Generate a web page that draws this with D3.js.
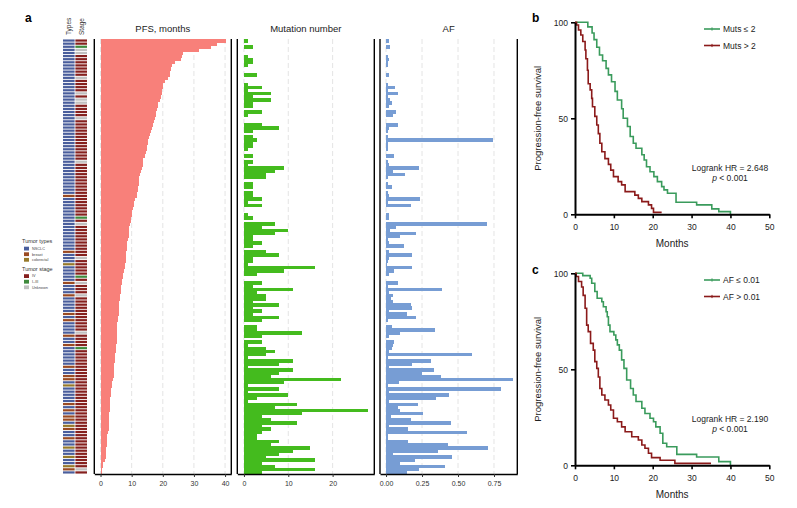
<!DOCTYPE html>
<html>
<head>
<meta charset="utf-8">
<script src="https://cdn.jsdelivr.net/npm/d3@7"></script>
<style>
  body { margin: 0; background: #fff; }
  text { font-family: "Liberation Sans", Arial, sans-serif; }
</style>
</head>
<body>
<script>

// ---- panel a data (one entry per patient, sorted by PFS) ----
const pfs = [
  40.3, 37.4, 35.4, 31.6, 26.5, 26.1, 25.8, 23.9, 23.0, 22.7, 22.4, 22.3, 21.8, 20.7, 20.0, 20.0, 19.8, 19.8, 19.4, 19.0,
  18.6, 18.4, 18.2, 17.9, 17.7, 17.5, 17.3, 16.9, 16.6, 16.2, 15.9, 15.5, 15.3, 15.2, 14.9, 14.8, 14.5, 14.3, 13.7, 13.6,
  13.5, 13.3, 13.0, 12.6, 12.4, 12.3, 12.2, 12.0, 11.9, 11.7, 11.6, 11.0, 10.9, 10.7, 10.4, 10.2, 10.1, 9.9, 9.8, 9.6,
  9.3, 9.1, 9.1, 9.0, 8.8, 8.5, 8.5, 8.4, 8.3, 8.1, 8.1, 8.1, 8.0, 7.9, 7.6, 7.3, 7.1, 6.9, 6.8, 6.7,
  6.7, 6.5, 6.3, 6.2, 6.0, 6.0, 6.0, 5.9, 5.9, 5.7, 5.5, 5.3, 5.3, 5.3, 5.3, 5.3, 5.2, 5.2, 5.1, 5.0,
  5.0, 4.8, 4.6, 4.6, 4.4, 4.3, 4.3, 4.3, 4.2, 3.9, 3.7, 3.6, 3.4, 3.4, 3.3, 3.2, 3.1, 3.1, 3.1, 2.9,
  2.8, 2.8, 2.6, 2.6, 2.6, 2.6, 2.3, 2.2, 2.1, 2.0, 2.0, 1.9, 1.9, 1.8, 1.6, 1.4, 0.9, 0.7, 0.5, 0.5
];
const mutations = [
  1, 0, 2, 0, 0, 1, 2, 2, 1, 0, 0, 3, 0, 0, 1, 4, 1, 6, 2, 6,
  2, 2, 0, 4, 1, 0, 0, 4, 8, 2, 0, 2, 3, 2, 2, 1, 0, 2, 0, 2,
  1, 9, 7, 5, 5, 0, 2, 2, 0, 2, 2, 4, 1, 4, 0, 0, 1, 2, 0, 7,
  4, 10, 7, 2, 2, 4, 2, 0, 5, 8, 2, 2, 1, 16, 9, 3, 0, 0, 4, 2,
  11, 3, 5, 5, 2, 8, 2, 4, 2, 8, 4, 0, 3, 3, 13, 4, 0, 4, 1, 5,
  7, 5, 1, 11, 8, 1, 11, 8, 6, 22, 9, 1, 8, 1, 10, 3, 1, 12, 7, 28,
  13, 4, 6, 12, 4, 6, 4, 3, 3, 8, 6, 15, 11, 8, 5, 16, 4, 7, 16, 4
];
const af = [
  0.019, 0, 0.028, 0, 0, 0.012, 0.019, 0.012, 0.012, 0, 0, 0.019, 0, 0, 0.012, 0.063, 0.012, 0.084, 0.012, 0.028,
  0.042, 0.019, 0, 0.07, 0.049, 0, 0, 0.084, 0.019, 0.012, 0, 0.012, 0.74, 0.012, 0.012, 0.012, 0, 0.056, 0, 0.012,
  0.019, 0.23, 0.049, 0.133, 0.012, 0, 0.012, 0.042, 0, 0.012, 0.019, 0.238, 0.012, 0.175, 0, 0, 0.019, 0.019, 0, 0.70,
  0.07, 0.028, 0.21, 0.098, 0.012, 0.019, 0.126, 0, 0.019, 0.18, 0.019, 0.012, 0.005, 0.18, 0.056, 0.019, 0, 0, 0.084, 0.012,
  0.39, 0.019, 0.049, 0.035, 0.049, 0.175, 0.18, 0.019, 0.147, 0.21, 0.012, 0, 0.042, 0.34, 0.098, 0.019, 0, 0.056, 0.049, 0.042,
  0.019, 0.60, 0.012, 0.315, 0.18, 0.019, 0.33, 0.25, 0.385, 0.88, 0.09, 0.012, 0.80, 0.019, 0.44, 0.35, 0.019, 0.22, 0.084, 0.098,
  0.26, 0.035, 0.175, 0.45, 0.019, 0.154, 0.56, 0.012, 0.012, 0.154, 0.43, 0.71, 0.36, 0.049, 0.46, 0.2, 0.098, 0.41, 0.23, 0.147
];
// N = NSCLC, B = breast, C = colorectal
const types = [
  'N','N','N','N','N','N','N','N','N','N','N','N','N','N','N','N','N','N','N','N',
  'N','N','N','N','N','N','N','N','N','N','N','N','N','N','N','N','N','N','N','N',
  'N','N','N','N','N','N','N','N','N','N','B','N','N','N','N','N','N','N','N','N',
  'N','N','N','N','N','N','N','N','B','N','N','N','C','N','N','N','N','N','B','N',
  'N','N','B','N','N','N','N','N','B','N','B','N','N','N','N','B','N','N','B','N',
  'N','N','N','N','N','B','N','N','B','B','N','C','N','N','N','N','N','B','N','B',
  'N','B','B','N','C','B','N','N','B','N','N','C','N','N','C','N','N','C','B','N'
];
// 4 = stage IV, E = stage I-III, U = unknown
const stages = [
  '4','4','E','U','U','4','4','4','4','4','4','4','U','4','4','4','4','U','4','U',
  'U','4','4','4','4','U','4','4','4','4','4','4','4','4','4','4','4','4','4','U',
  '4','4','4','4','4','4','4','4','4','4','4','4','4','4','4','4','4','E','4','U',
  '4','4','4','4','4','4','4','4','4','4','U','4','4','4','4','4','E','4','U','4',
  '4','4','U','4','4','4','4','4','4','4','4','4','4','4','U','4','4','4','4','E',
  '4','4','4','4','4','4','4','4','4','4','4','4','4','4','4','4','4','4','4','4',
  '4','4','4','4','4','4','4','4','4','4','4','4','4','4','4','4','4','4','U','4'
];

const typeKeys = ['N', 'B', 'C'];
const typeNames = ['NSCLC', 'breast', 'colorectal'];
const stageKeys = ['4', 'E', 'U'];
const stageNames = ['IV', 'I\u2013III', 'Unknown'];

const pfsTicks = [0, 10, 20, 30, 40];
const mutTicks = [0, 10, 20];
const afTicks = [0, 0.25, 0.5, 0.75];

// ---- panels b and c: Kaplan-Meier steps (months, % progression-free) ----
const bLowT = [0, 3.3, 4.4, 4.9, 5.6, 6.3, 7.1, 8.0, 8.6, 9.4, 10.3, 10.9, 12.0, 12.4, 13.5, 14.2, 15.0, 15.7, 17.2, 17.8, 18.4, 19.3, 20.3, 21.2, 22.3, 22.9, 23.8, 26.0, 31.3, 35.2, 37.0, 40.0];
const bLowS = [100, 97.6, 94.4, 91, 87, 83, 80, 76, 72.6, 69, 64, 59.5, 55, 50, 45.7, 40.5, 37, 34.4, 31, 28.3, 24.8, 22.2, 19.6, 17, 14.4, 12.7, 11, 6.3, 4.9, 2.8, 1.4, 0];
const bHighT = [0, 0.4, 0.9, 1.5, 2.0, 2.6, 2.8, 3.2, 3.4, 3.9, 4.3, 4.5, 5.1, 5.6, 6.0, 6.4, 6.9, 7.7, 8.6, 9.2, 9.9, 11.1, 12.0, 12.9, 15.4, 16.3, 17.2, 18.9, 19.7, 20.2, 22.3];
const bHighS = [100, 98.6, 96, 93.4, 90, 85.6, 81, 75, 68, 64.8, 60.4, 56, 51, 46.5, 42, 37, 32.6, 29, 26, 23, 19.6, 17, 15.3, 11.8, 10, 8.3, 6.6, 4.9, 3.1, 1, 1];
const cLowT = [0, 2.0, 3.9, 4.3, 5.1, 5.7, 6.9, 7.3, 8.0, 8.3, 8.6, 9.0, 10.0, 10.5, 10.9, 11.4, 12.0, 12.6, 13.3, 14.3, 15.0, 15.7, 17.2, 18.0, 19.3, 20.2, 20.8, 21.9, 22.6, 23.6, 26.2, 31.3, 37.0, 40.0];
const cLowS = [100, 98.8, 97.4, 94.8, 90.5, 87, 85.2, 82.6, 80, 77.4, 73, 69.6, 67.9, 65.3, 62.7, 60, 54.9, 50.5, 44.4, 40, 36.6, 33.2, 29.7, 27, 24.5, 22.7, 20, 16.7, 11.5, 9.7, 5.7, 4.3, 1.9, 0];
const cHighT = [0, 0.3, 0.9, 1.7, 2.1, 2.6, 3.0, 3.4, 4.0, 4.7, 5.1, 5.6, 6.0, 6.4, 6.9, 7.7, 8.6, 9.2, 9.9, 10.9, 12.0, 12.9, 14.6, 16.3, 17.2, 18.0, 18.9, 19.7, 21.9, 25.7, 35.0];
const cHighS = [100, 98.3, 95.7, 92.9, 88.5, 81.8, 73, 69.6, 63.5, 60, 54, 50.5, 46, 40, 36.6, 34, 31.4, 28.8, 24.5, 22.7, 20, 17.5, 14.9, 13.2, 10.6, 8.9, 6.3, 4, 2.6, 1, 1];

const survTicksX = [0, 10, 20, 30, 40, 50];
const survTicksY = [0, 50, 100];

const colors = {
  N: '#4a5e9c', B: '#9a4a22', C: '#96792a',
  '4': '#85201e', E: '#3f8a3d', U: '#c0c0c0',
  pfs: '#f8807a', mut: '#44bb1e', af: '#779dd4',
  low: '#3a9b5c', high: '#8b1a1a'
}

const svg = d3.select('body').append('svg')
    .attr('width', 797)
    .attr('height', 508)

const rows = d3.range(pfs.length)
const yRow = d3.scaleBand().domain(rows).range([39, 474]).padding(0)

// panel letters
svg.append('text').attr('x', 25).attr('y', 22).attr('font-size', 12).attr('font-weight', 'bold').text('a')
svg.append('text').attr('x', 532).attr('y', 22).attr('font-size', 12).attr('font-weight', 'bold').text('b')
svg.append('text').attr('x', 532).attr('y', 274).attr('font-size', 12).attr('font-weight', 'bold').text('c')

// ---- heatmap columns ----
const xCol = d3.scaleBand().domain(['Types', 'Stage']).range([63, 87]).paddingInner(0.06)

svg.append('g').selectAll('rect')
    .data(rows)
    .enter()
    .append('rect')
        .attr('x', xCol('Types'))
        .attr('width', xCol.bandwidth())
        .attr('y', d => yRow(d) + 0.45)
        .attr('height', yRow.bandwidth() - 0.9)
        .attr('fill', d => colors[types[d]])

svg.append('g').selectAll('rect')
    .data(rows)
    .enter()
    .append('rect')
        .attr('x', xCol('Stage'))
        .attr('width', xCol.bandwidth())
        .attr('y', d => yRow(d) + 0.45)
        .attr('height', yRow.bandwidth() - 0.9)
        .attr('fill', d => colors[stages[d]])

xCol.domain().forEach(function(name) {
    const cx = xCol(name) + xCol.bandwidth() / 2 + 2.5
    svg.append('text')
        .attr('transform', `translate(${cx},35) rotate(-90)`)
        .attr('font-size', 6.5)
        .attr('fill', '#333')
        .text(name)
})

// ---- side legend ----
function sideLegend(title, names, keys, top) {
    const g = svg.append('g')
    g.append('text').attr('x', 22).attr('y', top).attr('font-size', 5.5).attr('fill', '#333').text(title)
    names.forEach(function(n, i) {
        const yy = top + 5.5 + i * 5.6
        g.append('rect').attr('x', 24).attr('y', yy - 1.8).attr('width', 5).attr('height', 3.8).attr('fill', colors[keys[i]])
        g.append('text').attr('x', 32).attr('y', yy + 1.4).attr('font-size', 3.8).attr('fill', '#444').text(n)
    })
}
sideLegend('Tumor types', typeNames, typeKeys, 243)
sideLegend('Tumor stage', stageNames, stageKeys, 270.5)

// ---- bar panels ----
const panels = [
    { title: 'PFS, months', values: pfs, domain: [-2, 42], range: [94.3, 231.3], ticks: pfsTicks, color: colors.pfs, fmt: d3.format('d') },
    { title: 'Mutation number', values: mutations, domain: [-1.5, 29.4], range: [237.3, 374.3], ticks: mutTicks, color: colors.mut, fmt: d3.format('d') },
    { title: 'AF', values: af, domain: [-0.042, 0.912], range: [380, 517.3], ticks: afTicks, color: colors.af, fmt: d3.format('.2f') }
]

panels.forEach(function(p) {
    const x = d3.scaleLinear().domain(p.domain).range(p.range)
    const g = svg.append('g')
    const top = yRow.range()[0], bottom = yRow.range()[1]

    // dashed grid
    g.selectAll('.grid')
        .data(p.ticks)
        .enter()
        .append('line')
            .attr('x1', d => x(d)).attr('x2', d => x(d))
            .attr('y1', top).attr('y2', bottom)
            .attr('stroke', '#e4e4e4')
            .attr('stroke-width', 1)
            .attr('stroke-dasharray', '5,3')

    g.selectAll('.bar')
        .data(rows)
        .enter()
        .append('rect')
            .attr('x', x(0))
            .attr('width', d => Math.max(0, x(p.values[d]) - x(0)))
            .attr('y', d => yRow(d))
            .attr('height', yRow.bandwidth() + 0.5)
            .attr('fill', p.color)
            .attr('shape-rendering', 'crispEdges')

    // frame sides
    p.range.forEach(function(xx) {
        g.append('line')
            .attr('x1', xx).attr('x2', xx)
            .attr('y1', top).attr('y2', bottom)
            .attr('stroke', '#000')
            .attr('stroke-width', 1.4)
    })

    const axis = g.append('g')
        .attr('transform', `translate(0,${bottom})`)
        .call(d3.axisBottom(x).tickValues(p.ticks).tickFormat(p.fmt).tickSize(3).tickSizeOuter(0))
    axis.select('.domain').attr('stroke', '#000').attr('stroke-width', 1.4)
    axis.selectAll('.tick line').attr('stroke', '#333')
    axis.selectAll('.tick text')
        .attr('font-size', 7)
        .attr('fill', '#333')
        .attr('font-family', '"Liberation Sans", Arial, sans-serif')
        .attr('dy', '0.9em')

    g.append('text')
        .attr('x', (p.range[0] + p.range[1]) / 2)
        .attr('y', 31.5)
        .attr('text-anchor', 'middle')
        .attr('font-size', 9.5)
        .attr('fill', '#222')
        .text(p.title)
})

// ---- survival panels ----
function survPanel(y0, y100, curves, hr) {
    const x = d3.scaleLinear().domain([0, 50]).range([575, 769.3])
    const y = d3.scaleLinear().domain([0, 100]).range([y0, y100])
    const g = svg.append('g')

    const line = d3.line()
        .x(d => x(d[0]))
        .y(d => y(d[1]))
        .curve(d3.curveStepAfter)

    curves.forEach(function(c) {
        g.append('path')
            .datum(d3.zip(c.t, c.s))
            .attr('d', line)
            .attr('fill', 'none')
            .attr('stroke', c.color)
            .attr('stroke-width', 1.6)
    })

    const ax = g.append('g')
        .attr('transform', `translate(0,${y0})`)
        .call(d3.axisBottom(x).tickValues(survTicksX).tickSize(4).tickSizeOuter(0))
    const ay = g.append('g')
        .attr('transform', `translate(${x(0)},0)`)
        .call(d3.axisLeft(y).tickValues(survTicksY).tickSize(4).tickSizeOuter(0))
    ;[ax, ay].forEach(function(a) {
        a.select('.domain').attr('stroke', '#000').attr('stroke-width', 2)
        a.selectAll('.tick line').attr('stroke', '#000').attr('stroke-width', 1.6)
        a.selectAll('.tick text')
            .attr('font-size', 8.5)
            .attr('fill', '#222')
            .attr('font-family', '"Liberation Sans", Arial, sans-serif')
    })
    ax.selectAll('.tick text').attr('dy', '1.05em')

    g.append('text')
        .attr('x', x(25)).attr('y', y0 + 33)
        .attr('text-anchor', 'middle')
        .attr('font-size', 10)
        .attr('fill', '#222')
        .text('Months')
    g.append('text')
        .attr('transform', `translate(540.5,${(y0 + y100) / 2}) rotate(-90)`)
        .attr('text-anchor', 'middle')
        .attr('font-size', 9.5)
        .attr('fill', '#222')
        .text('Progression-free survival')

    // legend
    curves.forEach(function(c, i) {
        const ly = y100 + 6.7 + i * 16.5
        g.append('line').attr('x1', 704).attr('x2', 720).attr('y1', ly).attr('y2', ly)
            .attr('stroke', c.color).attr('stroke-width', 1.6)
        g.append('line').attr('x1', 712).attr('x2', 712).attr('y1', ly - 1.6).attr('y2', ly + 1.6)
            .attr('stroke', c.color).attr('stroke-width', 1)
        g.append('text').attr('x', 723).attr('y', ly + 3)
            .attr('font-size', 8.5).attr('fill', '#222').text(c.label)
    })

    g.append('text')
        .attr('x', 730).attr('y', y0 - 43)
        .attr('text-anchor', 'middle')
        .attr('font-size', 8.5)
        .attr('fill', '#222')
        .text('Logrank HR = ' + hr)
    const pt = g.append('text')
        .attr('x', 730).attr('y', y0 - 33)
        .attr('text-anchor', 'middle')
        .attr('font-size', 8.5)
        .attr('fill', '#222')
    pt.append('tspan').attr('font-style', 'italic').text('p')
    pt.append('tspan').text(' < 0.001')
}

survPanel(214.3, 22.3, [
    { t: bLowT, s: bLowS, color: colors.low, label: 'Muts \u2264 2' },
    { t: bHighT, s: bHighS, color: colors.high, label: 'Muts > 2' }
], '2.648')

survPanel(465.3, 273.3, [
    { t: cLowT, s: cLowS, color: colors.low, label: 'AF \u2264 0.01' },
    { t: cHighT, s: cHighS, color: colors.high, label: 'AF > 0.01' }
], '2.190')

</script>
</body>
</html>
